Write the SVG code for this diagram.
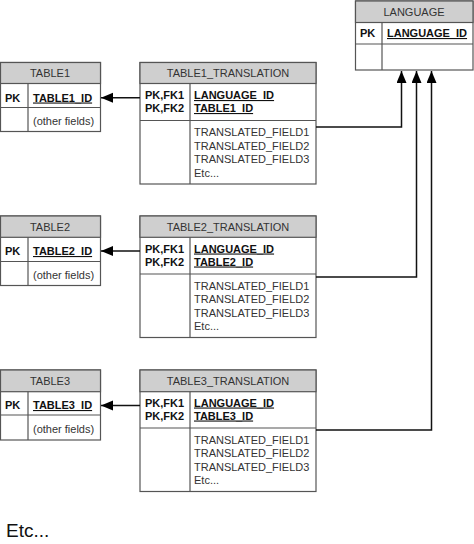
<svg xmlns="http://www.w3.org/2000/svg" width="474" height="544" viewBox="0 0 474 544">
<defs>
<marker id="arr" markerUnits="userSpaceOnUse" markerWidth="14" markerHeight="12" refX="12" refY="5" orient="auto">
<path d="M0,0 L12,5 L0,10 Z" fill="#000"/>
</marker>
</defs>
<style>
.box{fill:#fff;stroke:#555;stroke-width:1.2}
.hdr{fill:#cfcfcf;stroke:#555;stroke-width:1.2}
.ln{stroke:#555;stroke-width:1.2;fill:none}
text{font-family:"Liberation Sans",Arial,sans-serif;font-size:11px;fill:#333}
.t{text-anchor:middle;fill:#333}
.b{font-weight:bold;fill:#111}
.u{font-weight:bold;fill:#111;text-decoration:underline}
.con{stroke:#111;stroke-width:1.5;fill:none}
.big{font-size:19px;fill:#111}
</style>
<rect width="474" height="544" fill="#fff"/>

<g id="language">
<rect class="box" x="355.5" y="1" width="117.5" height="69"/>
<rect class="hdr" x="355.5" y="1" width="117.5" height="21.5"/>
<line class="ln" x1="355.5" y1="44" x2="473" y2="44"/>
<line class="ln" x1="382" y1="22.5" x2="382" y2="70"/>
<text class="t" x="414" y="15.5">LANGUAGE</text>
<text class="b" x="360" y="37">PK</text>
<text class="u" x="387" y="37">LANGUAGE_ID</text>
</g>

<g id="table1">
<rect class="box" x="0.5" y="62.5" width="100" height="69"/>
<rect class="hdr" x="0.5" y="62.5" width="100" height="21"/>
<line class="ln" x1="0.5" y1="107.5" x2="100.5" y2="107.5"/>
<line class="ln" x1="28" y1="83.5" x2="28" y2="131.5"/>
<text class="t" x="50" y="76.5">TABLE1</text>
<text class="b" x="5" y="101.5">PK</text>
<text class="u" x="33" y="101.5">TABLE1_ID</text>
<text x="33" y="125">(other fields)</text>
</g>

<g id="table1_translation">
<rect class="box" x="140" y="62.5" width="176" height="121.5"/>
<rect class="hdr" x="140" y="62.5" width="176" height="21"/>
<line class="ln" x1="140" y1="120.5" x2="316" y2="120.5"/>
<line class="ln" x1="190" y1="83.5" x2="190" y2="184"/>
<text class="t" x="228" y="76.5">TABLE1_TRANSLATION</text>
<text class="b" x="145" y="99">PK,FK1</text>
<text class="b" x="145" y="112">PK,FK2</text>
<text class="u" x="194" y="99">LANGUAGE_ID</text>
<text class="u" x="194" y="112">TABLE1_ID</text>
<text x="194" y="136">TRANSLATED_FIELD1</text>
<text x="194" y="149.5">TRANSLATED_FIELD2</text>
<text x="194" y="163">TRANSLATED_FIELD3</text>
<text x="194" y="176.5">Etc...</text>
</g>

<g id="table2">
<rect class="box" x="0.5" y="216" width="100" height="69.5"/>
<rect class="hdr" x="0.5" y="216" width="100" height="21.3"/>
<line class="ln" x1="0.5" y1="261.5" x2="100.5" y2="261.5"/>
<line class="ln" x1="28" y1="237.3" x2="28" y2="285.5"/>
<text class="t" x="50" y="230.5">TABLE2</text>
<text class="b" x="5" y="255">PK</text>
<text class="u" x="33" y="255">TABLE2_ID</text>
<text x="33" y="279">(other fields)</text>
</g>

<g id="table2_translation">
<rect class="box" x="140" y="216" width="176" height="121.5"/>
<rect class="hdr" x="140" y="216" width="176" height="21.3"/>
<line class="ln" x1="140" y1="274" x2="316" y2="274"/>
<line class="ln" x1="190" y1="237.3" x2="190" y2="337.5"/>
<text class="t" x="228" y="230.5">TABLE2_TRANSLATION</text>
<text class="b" x="145" y="252.5">PK,FK1</text>
<text class="b" x="145" y="265.5">PK,FK2</text>
<text class="u" x="194" y="252.5">LANGUAGE_ID</text>
<text class="u" x="194" y="265.5">TABLE2_ID</text>
<text x="194" y="289.5">TRANSLATED_FIELD1</text>
<text x="194" y="303">TRANSLATED_FIELD2</text>
<text x="194" y="316.5">TRANSLATED_FIELD3</text>
<text x="194" y="330">Etc...</text>
</g>

<g id="table3">
<rect class="box" x="0.5" y="370" width="100" height="70"/>
<rect class="hdr" x="0.5" y="370" width="100" height="21.7"/>
<line class="ln" x1="0.5" y1="415" x2="100.5" y2="415"/>
<line class="ln" x1="28" y1="391.7" x2="28" y2="440"/>
<text class="t" x="50" y="384.5">TABLE3</text>
<text class="b" x="5" y="409">PK</text>
<text class="u" x="33" y="409">TABLE3_ID</text>
<text x="33" y="433">(other fields)</text>
</g>

<g id="table3_translation">
<rect class="box" x="140" y="370" width="176" height="121.5"/>
<rect class="hdr" x="140" y="370" width="176" height="21.7"/>
<line class="ln" x1="140" y1="428" x2="316" y2="428"/>
<line class="ln" x1="190" y1="391.7" x2="190" y2="491.5"/>
<text class="t" x="228" y="384.5">TABLE3_TRANSLATION</text>
<text class="b" x="145" y="406.5">PK,FK1</text>
<text class="b" x="145" y="419.5">PK,FK2</text>
<text class="u" x="194" y="406.5">LANGUAGE_ID</text>
<text class="u" x="194" y="419.5">TABLE3_ID</text>
<text x="194" y="443.5">TRANSLATED_FIELD1</text>
<text x="194" y="457">TRANSLATED_FIELD2</text>
<text x="194" y="470.5">TRANSLATED_FIELD3</text>
<text x="194" y="484">Etc...</text>
</g>

<g id="connectors">
<line class="con" x1="140" y1="97.7" x2="101" y2="97.7" marker-end="url(#arr)"/>
<line class="con" x1="140" y1="251" x2="101" y2="251" marker-end="url(#arr)"/>
<line class="con" x1="140" y1="405.5" x2="101" y2="405.5" marker-end="url(#arr)"/>
<polyline class="con" points="316,127 401.5,127 401.5,71" marker-end="url(#arr)"/>
<polyline class="con" points="316,277 416.5,277 416.5,71" marker-end="url(#arr)"/>
<polyline class="con" points="316,430 431.5,430 431.5,71" marker-end="url(#arr)"/>
</g>

<text class="big" x="6" y="537">Etc...</text>
</svg>
